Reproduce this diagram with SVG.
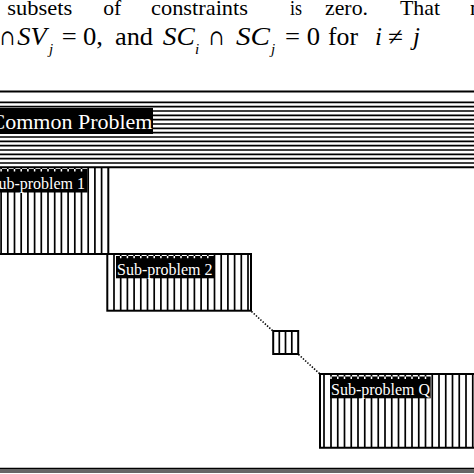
<svg xmlns="http://www.w3.org/2000/svg" width="474" height="474" viewBox="0 0 474 474">
<style>
.t{font-family:"Liberation Serif","Times New Roman",serif;fill:#000}
.it{font-style:italic}
.cap{font-family:"DejaVu Serif",serif;font-size:22px}
.ln{stroke:#000;stroke-width:1.7;fill:none}
.bd{stroke:#000;stroke-width:2;fill:none}
.lb{fill:#000}
.gap{stroke:#fff;stroke-width:1.5;fill:none}
.lt{font-family:"Liberation Serif","Times New Roman",serif;fill:#fff}
.dot{stroke:#000;stroke-width:1.6;stroke-dasharray:1.4 1.6;fill:none}
</style>
<rect width="474" height="474" fill="#fff"/>
<g id="top-text" class="t">
<g font-size="22">
<text x="7.3" y="14.5" textLength="65" lengthAdjust="spacingAndGlyphs">subsets</text>
<text x="103.3" y="14.5" textLength="18" lengthAdjust="spacingAndGlyphs">of</text>
<text x="151" y="14.5" textLength="97" lengthAdjust="spacingAndGlyphs">constraints</text>
<text x="290" y="14.5" textLength="12" lengthAdjust="spacingAndGlyphs">is</text>
<text x="325" y="14.5" textLength="43" lengthAdjust="spacingAndGlyphs">zero.</text>
<text x="400" y="14.5" textLength="40" lengthAdjust="spacingAndGlyphs">That</text>
<text x="470" y="14.5">n</text>
</g>
<g font-size="25">
<text x="0" y="45" class="cap" textLength="15" lengthAdjust="spacingAndGlyphs">∩</text>
<text x="17.3" y="45" class="it" textLength="29.4" lengthAdjust="spacingAndGlyphs">SV</text>
<text x="49" y="54" class="it" font-size="15">j</text>
<text x="61.7" y="45" textLength="15" lengthAdjust="spacingAndGlyphs">=</text>
<text x="83" y="45" textLength="20" lengthAdjust="spacingAndGlyphs">0,</text>
<text x="115" y="45" textLength="38" lengthAdjust="spacingAndGlyphs">and</text>
<text x="162.7" y="45" class="it" textLength="32" lengthAdjust="spacingAndGlyphs">SC</text>
<text x="195" y="53.5" class="it" font-size="15">i</text>
<text x="209" y="45" class="cap" textLength="15" lengthAdjust="spacingAndGlyphs">∩</text>
<text x="236" y="45" class="it" textLength="34" lengthAdjust="spacingAndGlyphs">SC</text>
<text x="271" y="54" class="it" font-size="15">j</text>
<text x="285" y="45" textLength="15" lengthAdjust="spacingAndGlyphs">=</text>
<text x="306.7" y="45" textLength="13.3" lengthAdjust="spacingAndGlyphs">0</text>
<text x="328" y="45" textLength="30" lengthAdjust="spacingAndGlyphs">for</text>
<text x="375" y="45" class="it">i</text>
<text x="388" y="45" textLength="15" lengthAdjust="spacingAndGlyphs">≠</text>
<text x="413" y="45" class="it">j</text>
</g>
</g>
<g id="frame">
<line x1="0" y1="91.5" x2="474" y2="91.5" class="bd"/>
<rect x="0" y="468" width="474" height="5" fill="#666"/>
<line x1="0" y1="468.4" x2="474" y2="468.4" stroke="#000" stroke-width="1.2"/>
</g>
<g id="node-common">
<path class="ln" d="M0 102.3H474M0 106.6H474M0 111H474M0 115.3H474M0 119.6H474M0 124H474M0 128.3H474M0 132.6H474M0 137H474M0 141.3H474M0 145.6H474M0 150H474M0 154.3H474M0 158.6H474M0 163H474"/>
<line x1="0" y1="167.3" x2="474" y2="167.3" class="bd"/>
<rect x="0" y="108" width="153" height="26" class="lb"/>
<text x="-9.5" y="129" font-size="22" class="lt">Common Problem</text>
</g>
<g id="node-sp1">
<path class="ln" d="M1.1 167.3V254M7.8 167.3V254M14.5 167.3V254M21.2 167.3V254M27.9 167.3V254M34.6 167.3V254M41.3 167.3V254M48 167.3V254M54.7 167.3V254M61.4 167.3V254M68.1 167.3V254M74.8 167.3V254M81.5 167.3V254M88.2 167.3V254M94.9 167.3V254M101.6 167.3V254"/>
<path class="bd" d="M108.3 167.3V254M0 254H108.3"/>
<rect x="0" y="169" width="87.5" height="23.5" class="lb"/>
<path class="gap" d="M1.1 169V171.5M7.8 169V171.5M14.5 169V171.5M21.2 169V171.5M27.9 169V171.5M34.6 169V171.5M41.3 169V171.5M48 169V171.5M54.7 169V171.5M61.4 169V171.5M68.1 169V171.5M74.8 169V171.5M81.5 169V171.5"/>
<text x="-10.5" y="188.5" font-size="16" class="lt">Sub-problem 1</text>
</g>
<g id="node-sp2">
<path class="ln" d="M114 254V310.7M120.7 254V310.7M127.4 254V310.7M134.1 254V310.7M140.8 254V310.7M147.5 254V310.7M154.2 254V310.7M160.9 254V310.7M167.6 254V310.7M174.3 254V310.7M181 254V310.7M187.7 254V310.7M194.4 254V310.7M201.1 254V310.7M207.8 254V310.7M214.5 254V310.7M221.2 254V310.7M227.9 254V310.7M234.6 254V310.7M241.3 254V310.7M248 254V310.7"/>
<rect x="107.3" y="254" width="143.7" height="56.7" class="bd"/>
<rect x="116" y="256" width="99" height="22.3" class="lb"/>
<path class="gap" d="M120.7 256V258.3M127.4 256V258.3M134.1 256V258.3M140.8 256V258.3M147.5 256V258.3M154.2 256V258.3M160.9 256V258.3M167.6 256V258.3M174.3 256V258.3M181 256V258.3M187.7 256V258.3M194.4 256V258.3M201.1 256V258.3M207.8 256V258.3"/>
<text x="117" y="275" font-size="16" class="lt">Sub-problem 2</text>
</g>
<g id="node-small">
<path class="ln" d="M279.3 331V354M285.5 331V354M291.8 331V354"/>
<rect x="273.2" y="331" width="25" height="23" class="bd"/>
</g>
<g id="node-spq">
<path class="ln" d="M324 374V447.7M331 374V447.7M337.75 374V447.7M344.5 374V447.7M351.25 374V447.7M358 374V447.7M364.75 374V447.7M371.5 374V447.7M378.25 374V447.7M385 374V447.7M391.75 374V447.7M398.5 374V447.7M405.25 374V447.7M412 374V447.7M418.75 374V447.7M425.5 374V447.7M432.25 374V447.7M439 374V447.7M445.75 374V447.7M452.5 374V447.7M459.25 374V447.7M466 374V447.7M472.75 374V447.7"/>
<path class="bd" d="M474 374H320V447.7H474"/>
<rect x="330" y="376.5" width="100.7" height="21.8" class="lb"/>
<path class="gap" d="M331 376.5V379M337.75 376.5V379M344.5 376.5V379M351.25 376.5V379M358 376.5V379M364.75 376.5V379M371.5 376.5V379M378.25 376.5V379M385 376.5V379M391.75 376.5V379M398.5 376.5V379M405.25 376.5V379M412 376.5V379M418.75 376.5V379M425.5 376.5V379"/>
<text x="331" y="395" font-size="16" class="lt">Sub-problem Q</text>
</g>
<g id="connectors">
<line x1="251.5" y1="311.5" x2="273" y2="331" class="dot"/>
<line x1="298.5" y1="354.5" x2="320" y2="374" class="dot"/>
</g>
</svg>
